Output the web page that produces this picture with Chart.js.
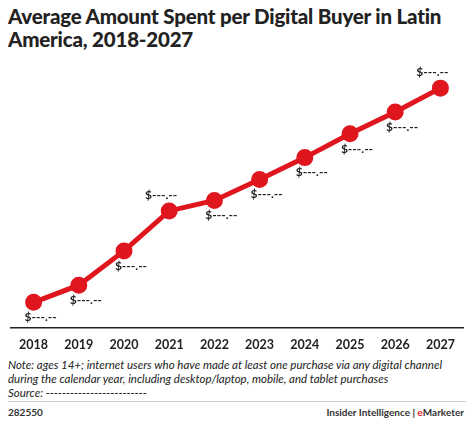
<!DOCTYPE html>
<html><head><meta charset="utf-8">
<script src="https://cdn.jsdelivr.net/npm/chart.js@4/dist/chart.umd.min.js"></script>
<style>
body{margin:0;width:474px;height:424px;background:#fff;font-family:Lato,"Open Sans",sans-serif;position:relative;overflow:hidden}
#t{position:absolute;left:8px;top:5px;font-size:20.5px;font-weight:900;line-height:23px;color:#222;letter-spacing:-0.2px}
#c{position:absolute;left:0;top:60px;width:474px;height:295px}
#n{position:absolute;left:8px;top:358px;font-size:11.5px;font-style:italic;line-height:14px;color:#222}
#hr{position:absolute;left:8px;right:8px;top:401px;border-top:1px solid #ccc}
#f1{position:absolute;left:8px;top:406px;font-size:10px;font-weight:700;color:#333}
#f2{position:absolute;right:10px;top:406px;font-size:10px;font-weight:700;color:#333}
</style></head><body>
<div id="t">Average Amount Spent per Digital Buyer in Latin<br>America, 2018-2027</div>
<div id="c"><canvas id="cv"></canvas></div>
<div id="n">Note: ages 14+; internet users who have made at least one purchase via any digital channel<br>during the calendar year, including desktop/laptop, mobile, and tablet purchases<br>Source: -------------------------</div>
<div id="hr"></div>
<div id="f1">282550</div>
<div id="f2">Insider Intelligence | <span style="color:#d71920">e</span>Marketer</div>
<script>
const years=["2018","2019","2020","2021","2022","2023","2024","2025","2026","2027"];
const values=[87,105,141,183,194,216,239,264,287,312];
const valueLabels=["$---.--","$---.--","$---.--","$---.--","$---.--","$---.--","$---.--","$---.--","$---.--","$---.--"];
const above=[false,false,false,true,false,false,false,false,false,true];
const lbl={id:'lbl',afterDatasetsDraw(ch){const c=ch.ctx;c.save();c.font='bold 12px Lato, sans-serif';c.fillStyle='#222';c.textAlign='center';
ch.getDatasetMeta(0).data.forEach((p,i)=>{if(above[i]){c.textBaseline='bottom';c.fillText(valueLabels[i],p.x-8,p.y-10);}else{c.textBaseline='top';c.fillText(valueLabels[i],p.x+7,p.y+9);}});c.restore();}};
new Chart(document.getElementById('cv'),{type:'line',data:{labels:years,datasets:[{data:values,borderColor:'#e0161e',backgroundColor:'#e0161e',borderWidth:5,pointRadius:6,pointHoverRadius:6,tension:0}]},
options:{responsive:true,maintainAspectRatio:false,animation:false,layout:{padding:{left:10,right:10,top:0,bottom:0}},
plugins:{legend:{display:false},tooltip:{enabled:false}},
scales:{y:{display:false,min:60,max:330},x:{offset:true,grid:{display:false,drawTicks:true,tickLength:6,tickColor:'#222'},border:{color:'#222',width:1.5},ticks:{color:'#222',font:{size:12.5,weight:'bold',family:'Lato'},padding:3}}}},plugins:[lbl]});
</script></body></html>
